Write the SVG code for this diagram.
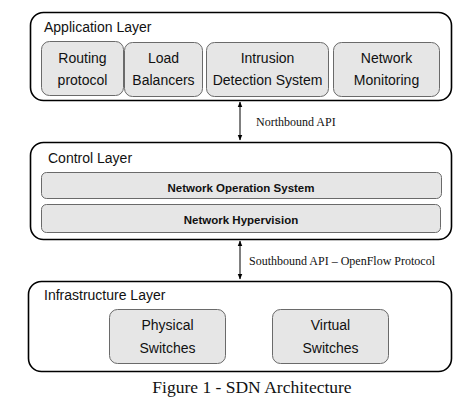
<svg xmlns="http://www.w3.org/2000/svg" width="474" height="405" viewBox="0 0 474 405">
<style>
.layer{fill:#fff;stroke:#000;stroke-width:1.6}
.box{fill:#e6e6e6;stroke:#6a6a6a;stroke-width:1}
.t{font-family:"Liberation Sans",Arial,sans-serif;font-size:14px;fill:#111}
.c{text-anchor:middle}
.b{font-weight:bold;font-size:11.5px}
.s{font-family:"Liberation Serif","Times New Roman",serif;font-size:12px;fill:#111}
.cap{font-family:"Liberation Serif","Times New Roman",serif;font-size:17.5px;fill:#111;text-anchor:middle}
.conn{stroke:#000;stroke-width:1;fill:none}
</style>
<defs>
<marker id="ah" viewBox="0 0 10 10" refX="9" refY="5" markerWidth="6" markerHeight="6" orient="auto-start-reverse">
<path d="M0,1 L10,5 L0,9 z" fill="#000"/>
</marker>
</defs>
<rect width="474" height="405" fill="#fff"/>
<g id="app-layer">
<rect class="layer" x="30.5" y="12.5" width="421" height="88" rx="13"/>
<text class="t" x="44" y="32">Application Layer</text>
</g>
<g id="routing">
<rect class="box" x="41.5" y="41.5" width="82" height="54" rx="8"/>
<text class="t c" x="82.5" y="63">Routing</text>
<text class="t c" x="82.5" y="85">protocol</text>
</g>
<g id="load">
<rect class="box" x="124.5" y="42.5" width="78" height="54" rx="8"/>
<text class="t c" x="163.5" y="63">Load</text>
<text class="t c" x="163.5" y="85">Balancers</text>
</g>
<g id="ids">
<rect class="box" x="206.5" y="42.5" width="122" height="54" rx="8"/>
<text class="t c" x="267.5" y="63">Intrusion</text>
<text class="t c" x="267.5" y="85">Detection System</text>
</g>
<g id="monitoring">
<rect class="box" x="333.5" y="42.5" width="106" height="54" rx="8"/>
<text class="t c" x="386.5" y="63">Network</text>
<text class="t c" x="386.5" y="85">Monitoring</text>
</g>
<g id="control-layer">
<rect class="layer" x="30.5" y="142.5" width="421" height="97" rx="13"/>
<text class="t" x="48" y="163">Control Layer</text>
</g>
<g id="nos">
<rect class="box" x="41.5" y="172.5" width="400" height="26" rx="5"/>
<text class="t c b" x="241" y="191.5">Network Operation System</text>
</g>
<g id="hypervision">
<rect class="box" x="41.5" y="204.5" width="399" height="28" rx="5"/>
<text class="t c b" x="241" y="223.5">Network Hypervision</text>
</g>
<g id="infra-layer">
<rect class="layer" x="28.5" y="281.5" width="423" height="90" rx="13"/>
<text class="t" x="44" y="300">Infrastructure Layer</text>
</g>
<g id="physical">
<rect class="box" x="109.5" y="309.5" width="116" height="54" rx="8"/>
<text class="t c" x="167.5" y="330">Physical</text>
<text class="t c" x="167.5" y="353">Switches</text>
</g>
<g id="virtual">
<rect class="box" x="272.5" y="309.5" width="116" height="54" rx="8"/>
<text class="t c" x="330.5" y="330">Virtual</text>
<text class="t c" x="330.5" y="353">Switches</text>
</g>
<g id="connectors">
<line class="conn" x1="240" y1="102" x2="240" y2="140" marker-start="url(#ah)" marker-end="url(#ah)"/>
<text class="s" x="256" y="126">Northbound API</text>
<line class="conn" x1="240" y1="241" x2="240" y2="279" marker-start="url(#ah)" marker-end="url(#ah)"/>
<text class="s" x="249" y="265">Southbound API – OpenFlow Protocol</text>
</g>
<text class="cap" x="252" y="393">Figure 1 - SDN Architecture</text>
</svg>
